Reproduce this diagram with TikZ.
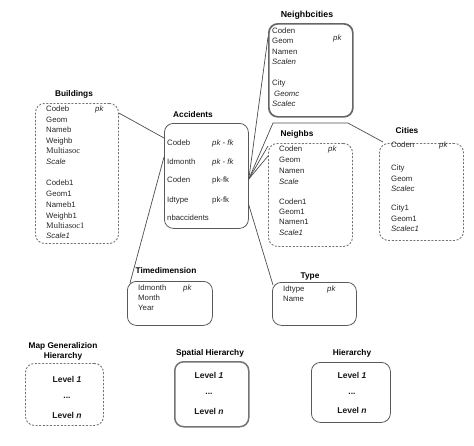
\documentclass[tikz,border=0pt]{standalone}
\usepackage{fontspec}
\setmainfont{Liberation Sans}
\newfontfamily\serfam{Liberation Serif}
\usetikzlibrary{calc}
\begin{document}
\begin{tikzpicture}[x=1pt,y=-1pt,
  box/.style={rounded corners=9pt,inner sep=0pt,anchor=north west,draw=black!65,line width=0.8pt},
  dbox/.style={box,draw=black!55,line width=0.9pt,dash pattern=on 2pt off 1.6pt},
  tbox/.style={box,draw=black!60,line width=1.7pt},
  fld/.style={anchor=west,inner sep=0pt,font=\fontsize{7.8}{9}\selectfont,text=black!85},
  ttl/.style={inner sep=0pt,font=\fontsize{8.3}{9.8}\selectfont\bfseries,text=black},
  lvl/.style={inner sep=0pt,font=\fontsize{8.5}{10}\selectfont\bfseries,text=black!90},
  conn/.style={draw=black!70,line width=0.7pt}]
\useasboundingbox (0,0) rectangle (474,445);

% ---------- Neighbcities ----------
\node[tbox,minimum width=84pt,minimum height=93pt] (nbc) at (268,23) {};
\node[ttl,font=\fontsize{8.8}{10}\selectfont\bfseries] (nbcT) at (307,15) {Neighbcities};
\node[fld] (nbc1) at (272,31) {Coden};
\node[fld] (nbc2) at (272,41) {Geom};
\node[fld] (nbc3) at (272,52) {Namen};
\node[fld] (nbc4) at (272,62) {\itshape Scalen};
\node[fld] (nbc5) at (272,83) {City};
\node[fld] (nbc6) at (274,94) {\itshape Geomc};
\node[fld] (nbc7) at (272,104) {\itshape Scalec};
\node[fld] (nbcpk) at (333,38) {\itshape pk};

% ---------- Buildings ----------
\node[dbox,minimum width=83pt,minimum height=140pt] (bld) at (35,103) {};
\node[ttl] (bldT) at (74,94) {Buildings};
\node[fld] (b1) at (46,109) {Codeb};
\node[fld] (b2) at (46,120) {Geom};
\node[fld] (b3) at (46,130) {Nameb};
\node[fld] (b4) at (46,141) {Weighb};
\node[fld] (b5) at (46,151) {\serfam\fontsize{8.5}{9}\selectfont Multiasoc};
\node[fld] (b6) at (46,162) {\itshape Scale};
\node[fld] (b7) at (46,183) {Codeb1};
\node[fld] (b8) at (46,194) {Geom1};
\node[fld] (b9) at (46,205) {Nameb1};
\node[fld] (b10) at (46,216) {Weighb1};
\node[fld] (b11) at (46,226) {\serfam\fontsize{8.5}{9}\selectfont Multiasoc1};
\node[fld] (b12) at (46,236) {\itshape Scale1};
\node[fld] (bpk) at (95,109) {\itshape pk};

% ---------- Accidents ----------
\node[box,minimum width=84pt,minimum height=105pt] (acc) at (164,123) {};
\node[ttl] (accT) at (193,115) {Accidents};
\node[fld] (a1) at (167,143) {Codeb};
\node[fld] (a2) at (167,162) {Idmonth};
\node[fld] (a3) at (167,180) {Coden};
\node[fld] (a4) at (167,200) {Idtype};
\node[fld] (a5) at (167,218) {nbaccidents};
\node[fld] (a1k) at (212,143) {\itshape pk - fk};
\node[fld] (a2k) at (212,162) {\itshape pk - fk};
\node[fld] (a3k) at (212,180) {pk-fk};
\node[fld] (a4k) at (212,200) {pk-fk};

% ---------- Neighbs ----------
\node[dbox,minimum width=84pt,minimum height=103pt] (ngb) at (268,143) {};
\node[ttl] (ngbT) at (297,134) {Neighbs};
\node[fld] (n1) at (279,149) {Coden};
\node[fld] (n2) at (279,160) {Geom};
\node[fld] (n3) at (279,171) {Namen};
\node[fld] (n4) at (279,182) {\itshape Scale};
\node[fld] (n5) at (279,202) {Coden1};
\node[fld] (n6) at (279,212) {Geom1};
\node[fld] (n7) at (279,222) {Namen1};
\node[fld] (n8) at (279,233) {\itshape Scale1};
\node[fld] (npk) at (328,149) {\itshape pk};

% ---------- Cities ----------
\node[dbox,minimum width=84pt,minimum height=97pt] (cit) at (379,143) {};
\node[ttl] (citT) at (407,131) {Cities};
\node[fld] (c1) at (391,145) {Coden};
\node[fld] (c2) at (391,168) {City};
\node[fld] (c3) at (391,179) {Geom};
\node[fld] (c4) at (391,189) {\itshape Scalec};
\node[fld] (c5) at (391,208) {City1};
\node[fld] (c6) at (391,219) {Geom1};
\node[fld] (c7) at (391,229) {\itshape Scalec1};
\node[fld] (cpk) at (439,145) {\itshape pk};

% ---------- Timedimension ----------
\node[box,minimum width=85pt,minimum height=44pt] (tim) at (127,281) {};
\node[ttl] (timT) at (166,271) {Timedimension};
\node[fld] (t1) at (138,288) {Idmonth};
\node[fld] (t2) at (138,298) {Month};
\node[fld] (t3) at (138,308) {Year};
\node[fld] (tpk) at (183,288) {\itshape pk};

% ---------- Type ----------
\node[box,minimum width=84pt,minimum height=43pt] (typ) at (272,282) {};
\node[ttl] (typT) at (310,277) {Type};
\node[fld] (y1) at (283,289) {Idtype};
\node[fld] (y2) at (283,299) {Name};
\node[fld] (ypk) at (327,289) {\itshape pk};

% ---------- Bottom legend ----------
\node[dbox,minimum width=78pt,minimum height=62pt] (mgh) at (25,363) {};
\node[ttl,align=center] (mghT) at (63,351.5) {Map Generalizion\\Hierarchy};
\node[lvl] (mgh1) at (67,379) {Level \textit{1}};
\node[lvl] (mgh2) at (67,398) {...};
\node[lvl] (mgh3) at (67,415) {Level \textit{n}};

\node[tbox,line width=1.5pt,draw=black!55,minimum width=74pt,minimum height=65pt] (sph) at (174,361) {};
\node[ttl] (sphT) at (210,353) {Spatial Hierarchy};
\node[lvl] (sph1) at (209,375) {Level \textit{1}};
\node[lvl] (sph2) at (209,394) {...};
\node[lvl] (sph3) at (209,411) {Level \textit{n}};

\node[box,minimum width=79pt,minimum height=60pt] (hie) at (311,362) {};
\node[ttl] (hieT) at (352,353) {Hierarchy};
\node[lvl] (hie1) at (352,375) {Level \textit{1}};
\node[lvl] (hie2) at (352,394) {...};
\node[lvl] (hie3) at (352,410) {Level \textit{n}};

% ---------- Connectors ----------
\coordinate (fan) at (acc.east |- {(0,179)});
\coordinate (cA) at ($(ngb.north west)+(5,-20)$);
\coordinate (cB) at ($(ngb.north east)+(-5,-20)$);
\draw[conn] (bld.east |- {(0,113)}) -- (acc.west |- {(0,138)});
\draw[conn] (acc.west |- {(0,157)}) -- ($(tim.north west)+(3,2)$);
\draw[conn] (fan) -- (nbc.west |- {(0,37)});
\draw[conn] (fan) -- (cA) -- (cB) -- ($(cit.north west)+(4,-1)$);
\draw[conn] (fan) -- (ngb.west |- {(0,146)});
\draw[conn] (fan) -- (ngb.west |- {(0,156)});
\draw[conn] (acc.east |- {(0,205)}) -- ($(typ.north west)+(1,3)$);
\end{tikzpicture}
\end{document}
